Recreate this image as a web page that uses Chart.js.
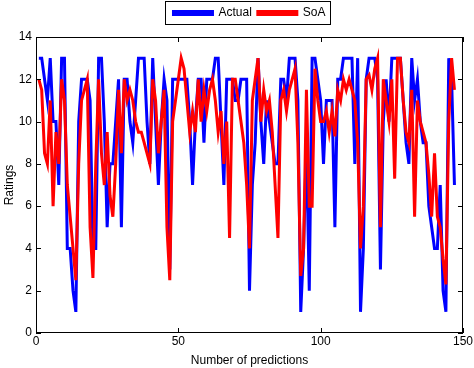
<!DOCTYPE html>
<html>
<head>
<meta charset="utf-8">
<script src="https://cdn.jsdelivr.net/npm/chart.js@4.4.0/dist/chart.umd.min.js"></script>
<style>
html, body { margin: 0; padding: 0; background: #fff; }
</style>
</head>
<body>
<canvas id="ratingsChart" width="474" height="368"></canvas>
<script>
// values, prediction number 1..147
const actualRatings = [
    13, 13, 12, 11, 13, 10, 10, 7, 13, 13,
    4, 4, 2, 1, 10, 12, 12, 12, 11, 4,
    4, 13, 13, 10, 5, 8, 8, 10, 12, 5,
    12, 12, 10, 9, 11, 13, 13, 13, 10, 8,
    13, 10, 7, 10, 12, 11, 3, 12, 12, 12,
    12, 12, 12, 10, 7, 10, 12, 12, 9, 12,
    12, 12, 13, 13, 10, 7, 12, 12, 12, 11,
    11, 12, 12, 12, 2, 7, 9, 13, 10, 8,
    11, 10, 9, 8, 8, 12, 12, 11, 13, 13,
    13, 11, 1, 4, 9, 2, 13, 13, 12, 11,
    8, 11, 11, 11, 5, 12, 12, 13, 13, 13,
    13, 8, 13, 1, 4, 12, 13, 13, 13, 12,
    3, 10, 12, 10, 13, 13, 13, 13, 11, 9,
    8, 13, 11, 12, 10, 9, 9, 6, 5, 4,
    4, 7, 2, 1, 13, 12, 7
];
const soaRatings = [
    12, 11.5, 8.5, 8, 11, 6, 9.5, 8, 12, 11,
    7, 5.5, 4, 2.5, 8, 11, 11.5, 12, 5, 2.6,
    8, 12, 8.5, 7, 9.5, 6.5, 5.5, 8, 11.5, 8.5,
    12, 11, 11.5, 11, 10, 9.5, 9.5, 9, 8.5, 8,
    12, 11, 8.5, 10, 11.5, 5, 2.5, 10, 11, 12,
    13, 12.5, 11, 9.5, 10.5, 9.5, 12, 10, 11.5, 10.5,
    11.5, 12, 11, 9.5, 10.5, 8, 10, 4.5, 12, 12,
    11, 10, 9, 7, 4, 11, 12, 13, 10, 11.5,
    10.5, 11, 9.5, 7, 4.5, 11, 11.5, 10.5, 11.5, 12,
    12.5, 9, 2.7, 4, 11.5, 6, 6, 12.5, 11, 10,
    10, 10.5, 9.5, 10.5, 9.3, 11.5, 11, 12, 11.5, 12,
    11.5, 11, 9, 4, 6, 12, 12.2, 11.5, 12.5, 13,
    5, 12, 11, 10, 12, 7.3, 13, 13, 11, 9.5,
    9, 11.5, 5.5, 11, 10, 9.5, 9, 7.5, 5.5, 8.5,
    5.5, 5, 3.5, 2.3, 10, 13, 11.5
];
const xTicks = [0, 50, 100, 150];
const yTicks = [0, 2, 4, 6, 8, 10, 12, 14];

const toPoints = arr => arr.map((v, i) => ({ x: i + 1, y: v }));
const font = { family: 'Liberation Sans, Arial, sans-serif', size: 12 };

// matlab style box with inward ticks, plus a frame round the legend
const matlabBox = {
    id: 'matlabBox',
    afterInit(chart) {
        const fit = chart.legend.fit;
        chart.legend.fit = function () {
            fit.call(this);
            this.height += 8;
        };
    },
    afterDraw(chart) {
        const ctx = chart.ctx;
        const a = chart.chartArea;
        const xs = chart.scales.x, ys = chart.scales.y;
        ctx.save();
        ctx.strokeStyle = '#000';
        ctx.lineWidth = 1;
        ctx.strokeRect(a.left + 0.5, a.top + 0.5, a.right - a.left - 1, a.bottom - a.top - 1);
        ctx.beginPath();
        xTicks.forEach(v => {
            const px = Math.round(xs.getPixelForValue(v)) + 0.5;
            ctx.moveTo(px, a.bottom); ctx.lineTo(px, a.bottom - 5);
            ctx.moveTo(px, a.top); ctx.lineTo(px, a.top + 5);
        });
        yTicks.forEach(v => {
            const py = Math.round(ys.getPixelForValue(v)) + 0.5;
            ctx.moveTo(a.left, py); ctx.lineTo(a.left + 5, py);
            ctx.moveTo(a.right, py); ctx.lineTo(a.right - 5, py);
        });
        ctx.stroke();

        const boxes = chart.legend.legendHitBoxes;
        if (boxes && boxes.length) {
            const l = boxes[0].left - 8;
            const r = boxes[boxes.length - 1].left + boxes[boxes.length - 1].width + 5;
            const t = chart.legend.top + 0.5;
            ctx.strokeRect(Math.round(l) + 0.5, t, Math.round(r - l), 23);
        }
        ctx.restore();
    }
};

new Chart(document.getElementById('ratingsChart'), {
    type: 'line',
    data: {
        datasets: [
            {
                label: 'Actual',
                data: toPoints(actualRatings),
                borderColor: '#0000ff',
                backgroundColor: '#0000ff',
                borderWidth: 3,
                pointRadius: 0,
                tension: 0,
                order: 2
            },
            {
                label: 'SoA',
                data: toPoints(soaRatings),
                borderColor: '#ff0000',
                backgroundColor: '#ff0000',
                borderWidth: 3,
                pointRadius: 0,
                tension: 0,
                order: 1
            }
        ]
    },
    options: {
        responsive: false,
        animation: false,
        layout: { padding: { top: 1, right: 10, left: 0, bottom: 0 } },
        plugins: {
            tooltip: { enabled: false },
            legend: {
                position: 'top',
                fullSize: false,
                labels: {
                    boxWidth: 39,
                    boxHeight: 3,
                    padding: 6,
                    color: '#000',
                    font: font,
                    sort: (a, b) => a.datasetIndex - b.datasetIndex
                }
            }
        },
        scales: {
            x: {
                type: 'linear',
                min: 0,
                max: 150,
                afterBuildTicks: s => { s.ticks = xTicks.map(v => ({ value: v })); },
                afterFit: s => { s.height = 35; },
                grid: { display: false, drawTicks: false },
                border: { display: false },
                ticks: { color: '#000', font: font, padding: 1, maxRotation: 0 },
                title: { display: true, text: 'Number of predictions', color: '#000', font: font, padding: 0 }
            },
            y: {
                min: 0,
                max: 14,
                afterBuildTicks: s => { s.ticks = yTicks.map(v => ({ value: v })); },
                afterFit: s => { s.width = 36; },
                grid: { display: false, drawTicks: false },
                border: { display: false },
                ticks: { color: '#000', font: font, padding: 4 },
                title: { display: true, text: 'Ratings', color: '#000', font: font, padding: 2 }
            }
        }
    },
    plugins: [matlabBox]
});
</script>
</body>
</html>
